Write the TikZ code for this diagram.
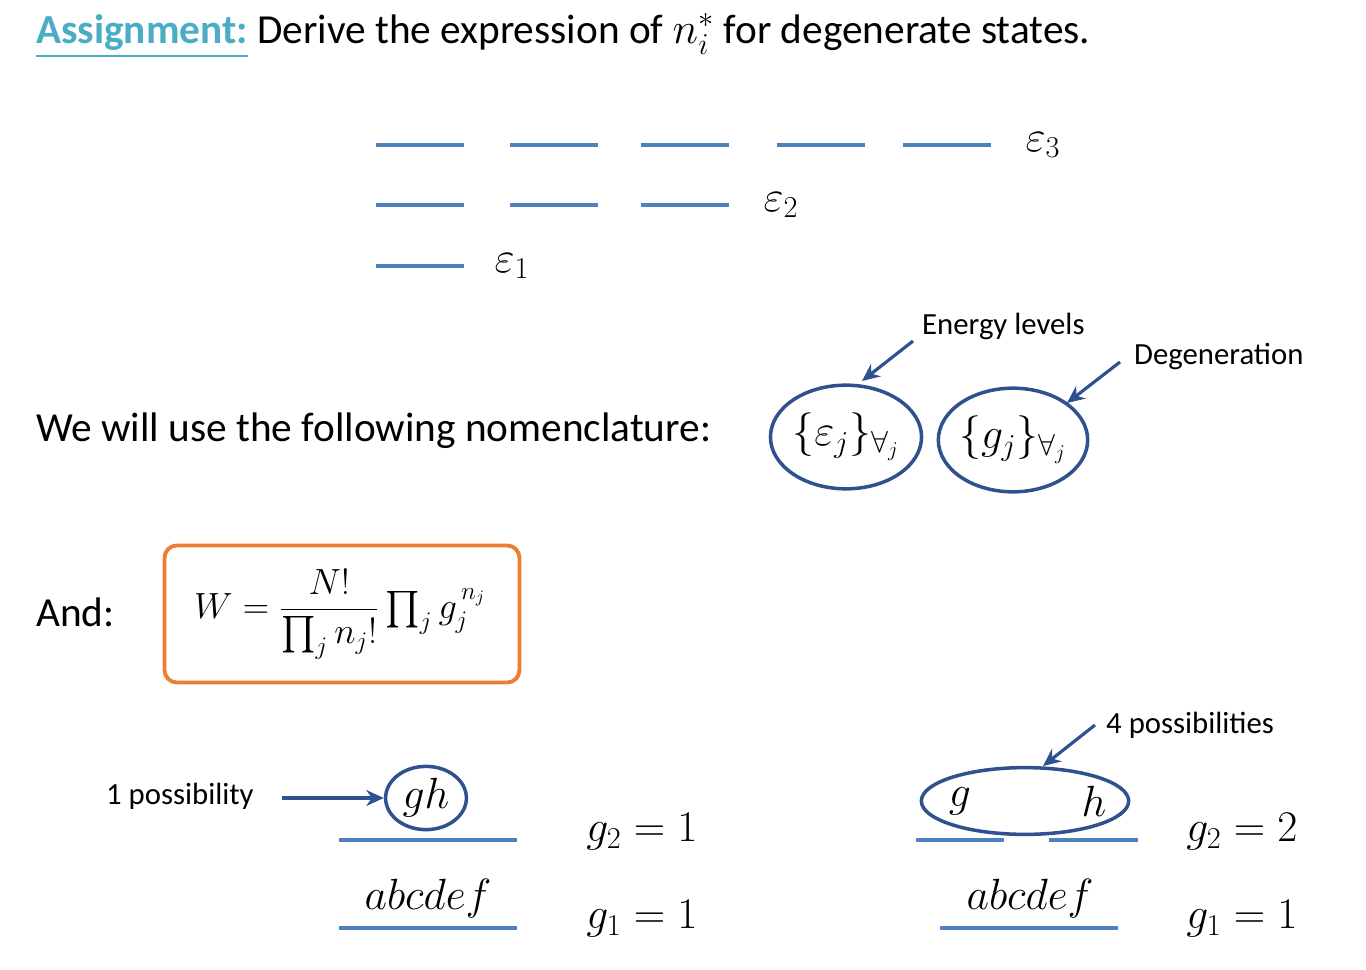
\documentclass[tikz,border=0pt]{standalone}
\usepackage{amsmath}
\usepackage{fontspec}
\setmainfont{Carlito}
\usetikzlibrary{shapes.geometric,arrows.meta}
\definecolor{lvl}{RGB}{79,129,189}
\definecolor{dblue}{RGB}{47,82,143}
\definecolor{orng}{RGB}{237,125,49}
\definecolor{teal}{RGB}{75,172,198}
\tikzset{
  lev/.style={draw=lvl,line width=2.2pt},
  ell/.style={draw=dblue,line width=2pt,ellipse,inner sep=0pt},
  arr/.style={draw=dblue,line width=1.8pt,-{Stealth[length=10pt,width=9pt]}},
  lbl/.style={font=\fontsize{17.5}{21}\selectfont,anchor=west},
  big/.style={font=\fontsize{23.5}{28}\selectfont,anchor=west},
  mth/.style={font=\fontsize{23}{28}\selectfont}
}
\begin{document}
\begin{tikzpicture}[x=0.02cm,y=-0.02cm]
\useasboundingbox (0,0) rectangle (1366,970);
\node[big] (title) at (30,36) {\textcolor{teal}{\underline{\textbf{Assignment:}}} Derive the expression of $n_i^*$ for degenerate states.};
\foreach \a/\b in {376/464,510/598,641/729,777/865,903/991}
  \draw[lev] (\a,145) -- (\b,145);
\foreach \a/\b in {376/464,510/598,641/729}
  \draw[lev] (\a,205) -- (\b,205);
\draw[lev] (376,266) -- (464,266);
\node[mth] (e3) at (1043,145) {$\varepsilon_3$};
\node[mth] (e2) at (781,205) {$\varepsilon_2$};
\node[mth] (e1) at (512,266) {$\varepsilon_1$};
\node[big] (nom) at (30,431) {We will use the following nomenclature:};
\node[ell,minimum width=86pt,minimum height=59pt] (eE) at (846,437) {};
\node[mth] at (846,437) {$\{\varepsilon_j\}_{\forall_j}$};
\node[ell,minimum width=85pt,minimum height=59pt] (eG) at (1013,440) {};
\node[mth] at (1013,440) {$\{g_j\}_{\forall_j}$};
\node[lbl] (el) at (916,326) {Energy levels};
\node[lbl] (dg) at (1128,357) {Degeneration};
\draw[arr] (913,341) -- (862,381);
\draw[arr] (1120,362) -- (1067,403);
\node[big] (and) at (30,612) {And:};
\node[draw=orng,line width=2.2pt,rounded corners=7pt,minimum width=202pt,minimum height=78pt] (box) at (342,614) {};
\node[mth,font=\fontsize{20}{24}\selectfont] at (340,614) {$W=\dfrac{N!}{\prod_j n_j!}\prod_j g_j^{\,n_j}$};
\draw[lev] (339,840) -- (517,840);
\draw[lev] (339,928) -- (517,928);
\node[ell,minimum width=46pt,minimum height=36pt] (gh) at (426,798) {};
\node[mth] at (426,798) {$gh$};
\node[lbl] (p1) at (100,796) {1 possibility};
\draw[arr] (282,798) -- (gh.west);
\node[mth] (a1) at (428,899) {$abcdef$};
\node[mth] (g2a) at (642,832) {$g_2=1$};
\node[mth] (g1a) at (642,919) {$g_1=1$};
\draw[lev] (916,840) -- (1004,840);
\draw[lev] (1049,840) -- (1138,840);
\draw[lev] (940,928) -- (1118,928);
\node[ell,minimum width=118pt,minimum height=38pt] (gh2) at (1025,801) {};
\node[mth] at (960,801) {$g$};
\node[mth] at (1094,801) {$h$};
\node[lbl] (p4) at (1100,725) {4 possibilities};
\draw[arr] (1095,725) -- (1043,766);
\node[mth] (a2) at (1030,899) {$abcdef$};
\node[mth] (g2b) at (1242,832) {$g_2=2$};
\node[mth] (g1b) at (1242,919) {$g_1=1$};
\end{tikzpicture}
\end{document}
